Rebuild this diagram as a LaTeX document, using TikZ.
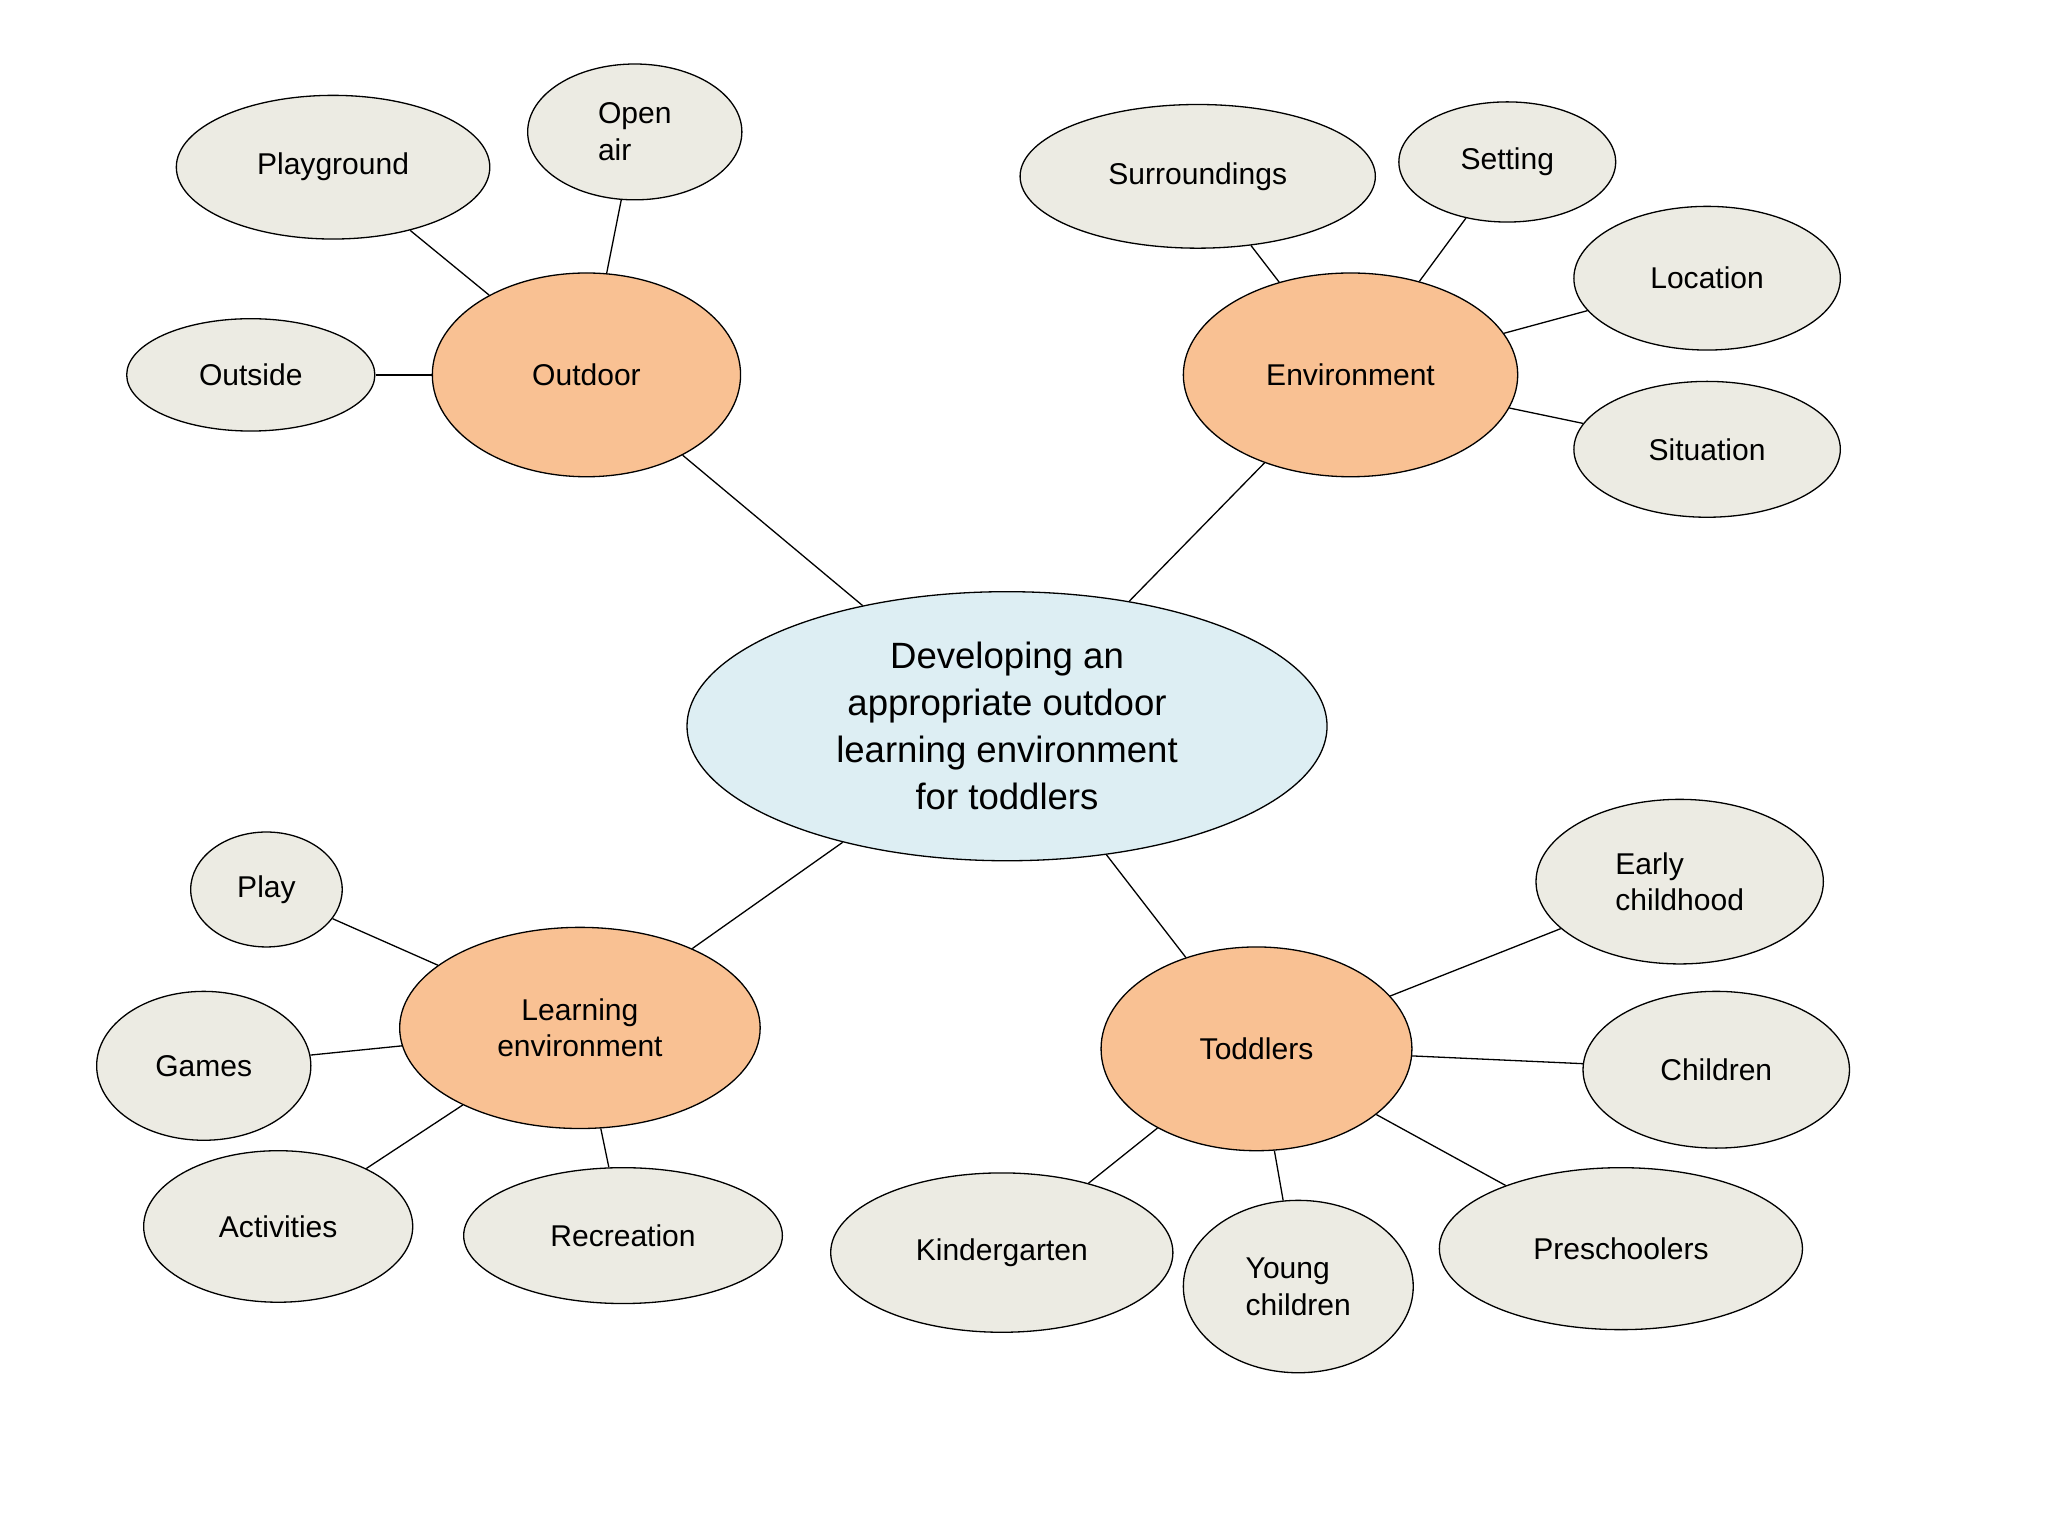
\documentclass[tikz,border=0pt]{standalone}
\usepackage{fontspec}
\setmainfont{Liberation Sans}
\usetikzlibrary{shapes.geometric}
\definecolor{orng}{HTML}{F9C193}
\definecolor{gry}{HTML}{ECEBE3}
\definecolor{blu}{HTML}{DDEEF3}
\tikzset{
 bub/.style n args={2}{ellipse,draw=black,line width=1pt,inner sep=0pt,minimum width=#1pt,minimum height=#2pt,align=left,font=\fontsize{23}{28}\selectfont},
 leaf/.style={fill=gry},
 hub/.style={fill=orng,align=center},
 con/.style={draw=black,line width=1pt}
}
\begin{document}
\begin{tikzpicture}[x=1pt,y=-1pt]
\useasboundingbox[fill=white] (0,0) rectangle (1568,1176);
\node[bub={490}{206},fill=blu,align=center,font=\fontsize{28}{36}\selectfont] (c) at (771,556) {Developing an\\appropriate outdoor\\learning environment\\for toddlers};
\node[bub={236}{156},hub] (out) at (449,287) {Outdoor};
\node[bub={240}{110},leaf] (pg) at (255,128) {Playground};
\node[bub={164}{104},leaf] (oa) at (486,101) {Open\\air};
\node[bub={190}{86},leaf] (os) at (192,287) {Outside};
\node[bub={256}{156},hub] (env) at (1034,287) {Environment};
\node[bub={272}{110},leaf] (sur) at (917,135) {Surroundings};
\node[bub={166}{92},leaf] (set) at (1154,124) {Setting};
\node[bub={204}{110},leaf] (loc) at (1307,213) {Location};
\node[bub={204}{104},leaf] (sit) at (1307,344) {Situation};
\node[bub={276}{154},hub] (le) at (444,787) {Learning\\environment};
\node[bub={116}{88},leaf] (pl) at (204,681) {Play};
\node[bub={164}{114},leaf] (ga) at (156,816) {Games};
\node[bub={206}{116},leaf] (ac) at (213,939) {Activities};
\node[bub={244}{104},leaf] (re) at (477,946) {Recreation};
\node[bub={238}{156},hub] (tod) at (962,803) {Toddlers};
\node[bub={220}{126},leaf] (ec) at (1286,675) {Early\\childhood};
\node[bub={204}{120},leaf] (ch) at (1314,819) {Children};
\node[bub={262}{122},leaf] (kg) at (767,959) {Kindergarten};
\node[bub={176}{132},leaf] (yc) at (994,985) {Young\\children};
\node[bub={278}{124},leaf] (ps) at (1241,956) {Preschoolers};
\foreach \a/\b in {c/out,c/env,c/le,c/tod,out/pg,out/oa,out/os,env/sur,env/set,env/loc,env/sit,le/pl,le/ga,le/ac,le/re,tod/ec,tod/ch,tod/kg,tod/yc,tod/ps}
  \draw[con] (\a) -- (\b);
\end{tikzpicture}
\end{document}
